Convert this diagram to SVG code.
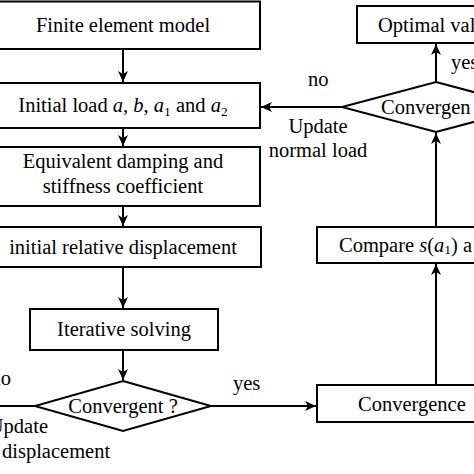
<svg xmlns="http://www.w3.org/2000/svg" width="474" height="474" viewBox="0 0 474 474">
<style>
.box{fill:#fff;stroke:#000;stroke-width:2}
.ln{fill:none;stroke:#000;stroke-width:2}
text{font-family:"Liberation Serif","Times New Roman",serif;font-size:20.5px;fill:#000}
.c{text-anchor:middle}
.i{font-style:italic}
.s{font-size:13.5px}
</style>
<defs>
<marker id="ah" markerUnits="userSpaceOnUse" markerWidth="12" markerHeight="10" refX="11" refY="5" orient="auto">
<path d="M0,0 L11,5 L0,10 L3,5 Z" fill="#000"/>
</marker>
</defs>
<rect width="474" height="474" fill="#fff"/>
<g id="connectors">
<line class="ln" x1="123" y1="49" x2="123" y2="82" marker-end="url(#ah)"/>
<line class="ln" x1="123" y1="128" x2="123" y2="146" marker-end="url(#ah)"/>
<line class="ln" x1="123" y1="206" x2="123" y2="226" marker-end="url(#ah)"/>
<line class="ln" x1="123" y1="267" x2="123" y2="308" marker-end="url(#ah)"/>
<line class="ln" x1="123" y1="350" x2="123" y2="380" marker-end="url(#ah)"/>
<line class="ln" x1="35" y1="406" x2="-2" y2="406"/>
<line class="ln" x1="211" y1="406" x2="316" y2="406" marker-end="url(#ah)"/>
<line class="ln" x1="436" y1="385" x2="436" y2="264" marker-end="url(#ah)"/>
<line class="ln" x1="436" y1="227" x2="436" y2="133" marker-end="url(#ah)"/>
<line class="ln" x1="436" y1="82" x2="436" y2="44" marker-end="url(#ah)"/>
<line class="ln" x1="342" y1="107" x2="261" y2="107" marker-end="url(#ah)"/>
<text x="11" y="385" style="text-anchor:end">no</text>
<text x="48" y="433" style="text-anchor:end">Update</text>
<text x="2" y="458">displacement</text>
<text x="233" y="390">yes</text>
<text x="308" y="86">no</text>
<text x="318" y="133" class="c">Update</text>
<text x="318" y="157" class="c">normal load</text>
<text x="451" y="69">yes</text>
</g>
<g id="n1"><rect class="box" x="-14" y="1.5" width="274" height="47.5"/><text x="123" y="32" class="c">Finite element model</text></g>
<g id="n2"><rect class="box" x="-14" y="83" width="274" height="45"/><text x="123" y="112" class="c">Initial load <tspan class="i">a</tspan>, <tspan class="i">b</tspan>, <tspan class="i">a</tspan><tspan class="s" dy="4">1</tspan><tspan dy="-4"> and </tspan><tspan class="i">a</tspan><tspan class="s" dy="4">2</tspan></text></g>
<g id="n3"><rect class="box" x="-14" y="147" width="274" height="59"/><text x="123" y="168" class="c">Equivalent damping and</text><text x="123" y="193" class="c">stiffness coefficient</text></g>
<g id="n4"><rect class="box" x="-14" y="227" width="275" height="40"/><text x="123" y="254" class="c">initial relative displacement</text></g>
<g id="n5"><rect class="box" x="30" y="309" width="188" height="41"/><text x="124" y="336" class="c">Iterative solving</text></g>
<g id="d1"><polygon class="box" points="123,381 211,406 123,431 35,406"/><text x="123" y="413" class="c">Convergent ?</text></g>
<g id="n6"><rect class="box" x="317" y="385" width="170" height="37"/><text x="358" y="411">Convergence</text></g>
<g id="n7"><rect class="box" x="317" y="227" width="170" height="36"/><text x="339" y="252">Compare <tspan class="i">s</tspan>(<tspan class="i">a</tspan><tspan class="s" dy="2">1</tspan><tspan dy="-2">) a</tspan></text></g>
<g id="d2"><polygon class="box" points="436,82 530,107 436,132 342,107"/><text x="381" y="114">Convergen</text></g>
<g id="n8"><rect class="box" x="357" y="6" width="130" height="37"/><text x="378" y="32">Optimal val</text></g>
</svg>
